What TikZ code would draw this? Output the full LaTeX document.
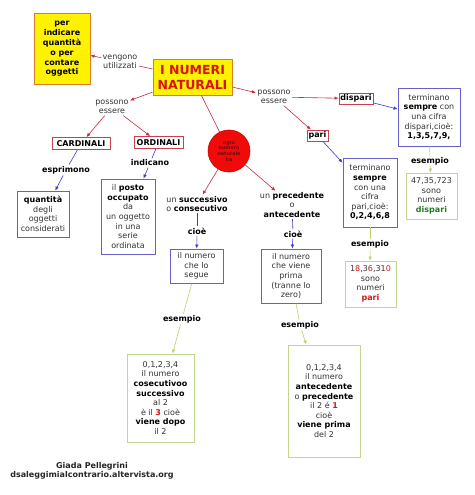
\documentclass[tikz,border=0pt]{standalone}
\usepackage{fontspec}
\setmainfont{DejaVu Sans}
\usetikzlibrary{arrows.meta}
\definecolor{lred}{RGB}{200,45,65}
\definecolor{lblue}{RGB}{60,60,200}
\definecolor{lgreen}{RGB}{185,210,110}
\definecolor{bblue}{RGB}{105,95,200}
\definecolor{bred}{RGB}{195,65,80}
\definecolor{bgreen}{RGB}{195,215,140}
\definecolor{borange}{RGB}{215,125,45}
\definecolor{tred}{RGB}{215,20,20}
\definecolor{tgreen}{RGB}{40,120,40}
\definecolor{cred}{RGB}{240,10,10}
\definecolor{ctext}{RGB}{110,10,10}
\begin{document}
\begin{tikzpicture}[x=1pt,y=-1pt,
  lbl/.style={font=\fontsize{8}{9.6}\selectfont, align=center, inner sep=0.5pt, outer sep=1pt, text=black!80},
  blbl/.style={lbl, font=\fontsize{8}{9.6}\selectfont\bfseries, text=black},
  abox/.style={draw, line width=0.9pt, fill=white, align=center, inner sep=1pt, text=black!80,
    font=\fontsize{8}{9.6}\selectfont},
  bbox/.style={abox, draw=bblue},
  gbox/.style={abox, draw=bgreen},
  rbox/.style={abox, draw=bred, font=\fontsize{8}{9.6}\selectfont\bfseries, text=black, inner sep=0.5pt},
  ybox/.style={abox, draw=borange, fill=yellow, line width=1pt, text=black,
    font=\fontsize{8}{9.8}\selectfont\bfseries},
  redln/.style={draw=lred, line width=0.6pt},
  redar/.style={redln, -{Latex[length=4pt,width=3.5pt]}},
  blueln/.style={draw=lblue, line width=0.6pt},
  bluear/.style={blueln, -{Latex[length=4pt,width=3.5pt]}},
  greenln/.style={draw=lgreen, line width=0.6pt},
  greenar/.style={greenln, -{Latex[length=4pt,width=3.5pt]}}
]
\useasboundingbox (0,0) rectangle (474,495);
\fill[white] (0,0) rectangle (474,495);

% top
\node[ybox, minimum width=56pt, minimum height=70pt] (yel) at (62,49)
  {per\\indicare\\quantità\\o per\\contare\\oggetti};
\node[ybox, minimum width=79pt, minimum height=35pt, text=tred,
  font=\fontsize{12.5}{14.5}\selectfont\bfseries] (main) at (192.5,77.5) {I NUMERI\\NATURALI};
\node[lbl] (veng) at (120,62) {vengono\\utilizzati};
\node[lbl] (posL) at (112,107) {possono\\essere};
\node[lbl] (posR) at (274,97) {possono\\essere};

% left branch
\node[rbox, minimum width=58pt, minimum height=12pt] (card) at (81,143.5) {CARDINALI};
\node[rbox, minimum width=49pt, minimum height=12pt] (ord) at (158.5,142.5) {ORDINALI};
\node[blbl] (espr) at (66,170) {esprimono};
\node[blbl] (indic) at (150,163) {indicano};
\node[bbox, minimum width=52pt, minimum height=46pt] (quant) at (43,214)
  {\textbf{\color{black}quantità}\\degli\\oggetti\\considerati};
\node[bbox, minimum width=54pt, minimum height=75pt] (posto) at (128,216.5)
  {il \textbf{\color{black}posto}\\\textbf{\color{black}occupato}\\da\\un oggetto\\in una\\serie\\ordinata};

% circle
\node[circle, fill=cred, draw=red!80!black, line width=0.6pt, minimum size=42pt, inner sep=0pt,
  align=center, text=ctext, font=\fontsize{4.8}{5.6}\selectfont\bfseries] (circ) at (229,151)
  {ogni\\numero\\naturale\\ha};

\node[lbl] (succ) at (197,204) {un \textbf{\color{black}successivo}\\o \textbf{\color{black}consecutivo}};
\node[lbl] (prec) at (292,205) {un \textbf{\color{black}precedente}\\o\\\textbf{\color{black}antecedente}};
\node[blbl] (cioeL) at (197,231) {cioè};
\node[blbl] (cioeR) at (293,234) {cioè};
\node[bbox, minimum width=53pt, minimum height=34pt] (segue) at (196.5,266) {il numero\\che lo\\segue};
\node[bbox, minimum width=60pt, minimum height=54pt] (prima) at (291,276)
  {il numero\\che viene\\prima\\(tranne lo\\zero)};
\node[blbl] (esL) at (182,319) {esempio};
\node[blbl] (esR) at (300,325) {esempio};
\node[gbox, minimum width=67pt, minimum height=88pt] (exL) at (160.5,398)
  {0,1,2,3,4\\il numero\\\textbf{\color{black}cosecutivoo}\\\textbf{\color{black}successivo}\\al 2\\è il \textbf{\color{tred}3} cioè\\\textbf{\color{black}viene dopo}\\il 2};
\node[gbox, minimum width=72pt, minimum height=112pt] (exR) at (324,401)
  {0,1,2,3,4\\il numero\\\textbf{\color{black}antecedente}\\o \textbf{\color{black}precedente}\\il 2 é \textbf{\color{tred}1}\\cioè\\\textbf{\color{black}viene prima}\\del 2};

% right branch
\node[rbox, minimum width=34pt, minimum height=11pt] (disp) at (356,98.5) {dispari};
\node[rbox, minimum width=21pt, minimum height=11pt] (pari) at (317.5,135.5) {pari};
\node[bbox, minimum width=62pt, minimum height=58pt] (dispD) at (429,117)
  {terminano\\\textbf{\color{black}sempre} con\\una cifra\\dispari,cioè:\\\textbf{\color{black}1,3,5,7,9,}};
\node[bbox, minimum width=54pt, minimum height=69pt] (pariD) at (370,192.5)
  {terminano\\\textbf{\color{black}sempre}\\con una\\cifra\\pari,cioè:\\\textbf{\color{black}0,2,4,6,8}};
\node[blbl] (esD) at (430,161) {esempio};
\node[blbl] (esP) at (370,244) {esempio};
\node[gbox, minimum width=51pt, minimum height=46pt] (exD) at (431.5,196)
  {47,35,723\\sono\\numeri\\\textbf{\color{tgreen}dispari}};
\node[gbox, minimum width=51pt, minimum height=46pt] (exP) at (370.5,284)
  {1\textcolor{tred}{8},3\textcolor{tred}{6},31\textcolor{tred}{0}\\sono\\numeri\\\textbf{\color{tred}pari}};

% footer
\node[blbl, text=black!85] (foot) at (92,471) {Giada Pellegrini\\dsaleggimialcontrario.altervista.org};

% connectors
\draw[redln] (main) -- (veng);
\draw[redar] (veng) -- (yel);
\draw[redar] (main) -- (posL);
\draw[redar] (posL) -- (card);
\draw[redar] (posL) -- (ord);
\draw[blueln] (card) -- (espr);
\draw[bluear] (espr) -- (quant);
\draw[blueln] (ord) -- (indic);
\draw[bluear] (indic) -- (posto);
\draw[redln] (main) -- (circ);
\draw[redar] (circ) -- (succ);
\draw[redar] (circ) -- (prec);
\draw[blueln] (succ) -- (cioeL);
\draw[bluear] (cioeL) -- (segue);
\draw[blueln] (prec) -- (cioeR);
\draw[bluear] (cioeR) -- (prima);
\draw[greenln] (segue) -- (esL);
\draw[greenar] (esL) -- (exL);
\draw[greenln] (prima) -- (esR);
\draw[greenar] (esR) -- (exR);
\draw[redar] (main) -- (posR);
\draw[redar] (posR) -- (disp);
\draw[redar] (posR) -- (pari);
\draw[bluear] (disp) -- (dispD);
\draw[bluear] (pari) -- (pariD);
\draw[greenln] (dispD) -- (esD);
\draw[greenar] (esD) -- (exD);
\draw[greenln] (pariD) -- (esP);
\draw[greenar] (esP) -- (exP);
\end{tikzpicture}
\end{document}
